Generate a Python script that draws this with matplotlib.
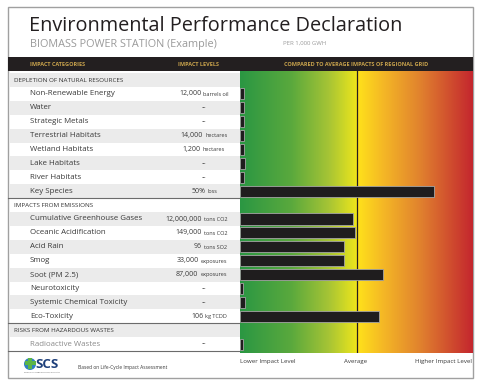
import matplotlib
matplotlib.use("Agg")
import matplotlib.pyplot as plt
from matplotlib.patches import Rectangle, Circle
from matplotlib.colors import LinearSegmentedColormap
import numpy as np

plt.rcParams['font.family'] = ['Open Sans', 'DejaVu Sans']

# data
sections = ["DEPLETION OF NATURAL RESOURCES", "IMPACTS FROM EMISSIONS", "RISKS FROM HAZARDOUS WASTES"]
categories = ["Non-Renewable Energy", "Water", "Strategic Metals", "Terrestrial Habitats",
              "Wetland Habitats", "Lake Habitats", "River Habitats", "Key Species",
              "Cumulative Greenhouse Gases", "Oceanic Acidification", "Acid Rain", "Smog",
              "Soot (PM 2.5)", "Neurotoxicity", "Systemic Chemical Toxicity", "Eco-Toxicity",
              "Radioactive Wastes"]
section_of = [0, 0, 0, 0, 0, 0, 0, 0, 1, 1, 1, 1, 1, 1, 1, 1, 2]
amounts = ["12,000", "--", "--", "14,000", "1,200", "--", "--", "50%",
           "12,000,000", "149,000", "96", "33,000", "87,000", "--", "--", "106", "--"]
units = ["barrels oil", "", "", "hectares", "hectares", "", "", "loss",
         "tons CO2", "tons CO2", "tons SO2", "exposures", "exposures", "", "", "kg TCDD", ""]
# impact relative to regional grid average (1.0 = average)
scores = [0.034, 0.034, 0.034, 0.034, 0.034, 0.043, 0.034, 1.665,
          0.97, 0.987, 0.893, 0.893, 1.227, 0.026, 0.043, 1.193, 0.026]
scale_labels = ["Lower Impact Level", "Average", "Higher Impact Level"]

W, H = 480, 385
fig = plt.figure(figsize=(W / 100, H / 100), dpi=100)
ax = fig.add_axes([0, 0, 1, 1])
ax.set_xlim(0, W)
ax.set_ylim(H, 0)
ax.axis('off')

# row layout (pixels)
y0, pitch = 80, 13.9
rows = []  # (kind, index)
for s in range(len(sections)):
    rows.append(("section", s))
    for i, c in enumerate(categories):
        if section_of[i] == s:
            rows.append(("item", i))
row_y = [y0 + pitch * k for k in range(len(rows))]

# frame
ax.add_patch(Rectangle((8, 7), 465, 371, fill=False, ec='#a0a0a0', lw=1))

# title block
ax.text(29, 26, "Environmental Performance Declaration", fontsize=14.3, color='#231f20', va='center')
ax.text(30, 44.5, "BIOMASS POWER STATION (Example)", fontsize=7.8, color='#9a9a9a', va='center')
ax.text(283, 43, "PER 1,000 GWH", fontsize=4.3, color='#9a9a9a', va='center')

# header band
gold = '#c9a34c'
ax.add_patch(Rectangle((8, 57), 465, 14, color='#231f20', lw=0))
ax.text(30, 64.5, "IMPACT CATEGORIES", fontsize=4, color=gold, weight='bold', va='center')
ax.text(198, 64.5, "IMPACT LEVELS", fontsize=4, color=gold, weight='bold', va='center', ha='center')
ax.text(356, 64.5, "COMPARED TO AVERAGE IMPACTS OF REGIONAL GRID", fontsize=4, color=gold,
        weight='bold', va='center', ha='center')

renderer = fig.canvas.get_renderer()

for k, (kind, idx) in enumerate(rows):
    y = row_y[k]
    if k % 2 == 0:
        ax.add_patch(Rectangle((9, y - pitch / 2), 231, pitch, color='#ebebeb', lw=0))
    if kind == "section":
        ax.text(14, y, sections[idx], fontsize=4.5, color='#333333', va='center')
        continue
    col = '#8a8a8a' if section_of[idx] == 2 else '#3a3a3a'
    ax.text(30, y, categories[idx], fontsize=5.7, color=col, va='center')
    t_num = ax.text(0, y, amounts[idx], fontsize=5.0, color='#3a3a3a', va='center', ha='left')
    t_unit = ax.text(0, y + 0.3, units[idx], fontsize=4.0, color='#3a3a3a', va='center', ha='left')
    w_num = t_num.get_window_extent(renderer).width
    w_unit = t_unit.get_window_extent(renderer).width if units[idx] else 0
    gap = 2 if units[idx] else 0
    total = w_num + gap + w_unit
    if section_of[idx] == 1 and units[idx]:
        left = 227 - total
    else:
        left = 204 - total / 2
    t_num.set_x(left)
    t_unit.set_x(left + w_num + gap)

# section separators
for k in [8.5, 17.5, 19.5]:
    yy = y0 + pitch * k
    ax.plot([8, 240], [yy, yy], color='#6b6b6b', lw=0.8)

# gradient chart
gx0, gx1, gy0, gy1 = 240, 473, 71, 353
bax = fig.add_axes([gx0 / W, (H - gy1) / H, (gx1 - gx0) / W, (gy1 - gy0) / H])
ymin = (gy0 - y0) / pitch
ymax = (gy1 - y0) / pitch
grad = LinearSegmentedColormap.from_list("impact", [
    (0.0, '#2b9743'), (0.22, '#5aa93d'), (0.38, '#a6c435'), (0.499, '#ece51c'),
    (0.501, '#ffe31a'), (0.62, '#f4b626'), (0.78, '#e0802e'), (1.0, '#c4272e')])
bax.imshow(np.linspace(0, 1, 400)[None, :], cmap=grad, aspect='auto',
           extent=[0, 2, ymax, ymin], zorder=0)
bax.axvline(1.0, color='#231f20', lw=0.9, zorder=1)
item_rows = [k for k, (kind, idx) in enumerate(rows) if kind == "item"]
item_scores = [scores[idx] for kind, idx in rows if kind == "item"]
bax.barh(item_rows, item_scores, height=0.8, color='#1f1d1e', edgecolor='#a5a5a5', lw=0.6, zorder=2)
bax.set_xlim(0, 2)
bax.set_ylim(ymax, ymin)
bax.axis('off')

ax.text(gx0, 362, scale_labels[0], fontsize=4.4, color='#3a3a3a', va='center')
ax.text(356, 361, scale_labels[1], fontsize=4.4, color='#3a3a3a', va='center', ha='center')
ax.text(472, 361, scale_labels[2], fontsize=4.4, color='#3a3a3a', va='center', ha='right')

# footer logo
ax.add_patch(Circle((30, 364), 6, color='#2f7fc1', lw=0))
ax.add_patch(Rectangle((27.8, 357.5), 4.4, 11, color='#5cb546', lw=0))
ax.add_patch(Rectangle((24.5, 360.8), 11, 4.4, color='#5cb546', lw=0))
ax.text(35, 364, "SCS", fontsize=9.5, weight='bold', color='#1d3f7a', va='center')
ax.text(24, 372, "SCIENTIFIC CERTIFICATION SYSTEMS", fontsize=1.5, color='#555555', va='center')
ax.text(78, 368, "Based on Life-Cycle Impact Assessment", fontsize=3.5, color='#3a3a3a', va='center')

fig.savefig("out.png", dpi=100)
